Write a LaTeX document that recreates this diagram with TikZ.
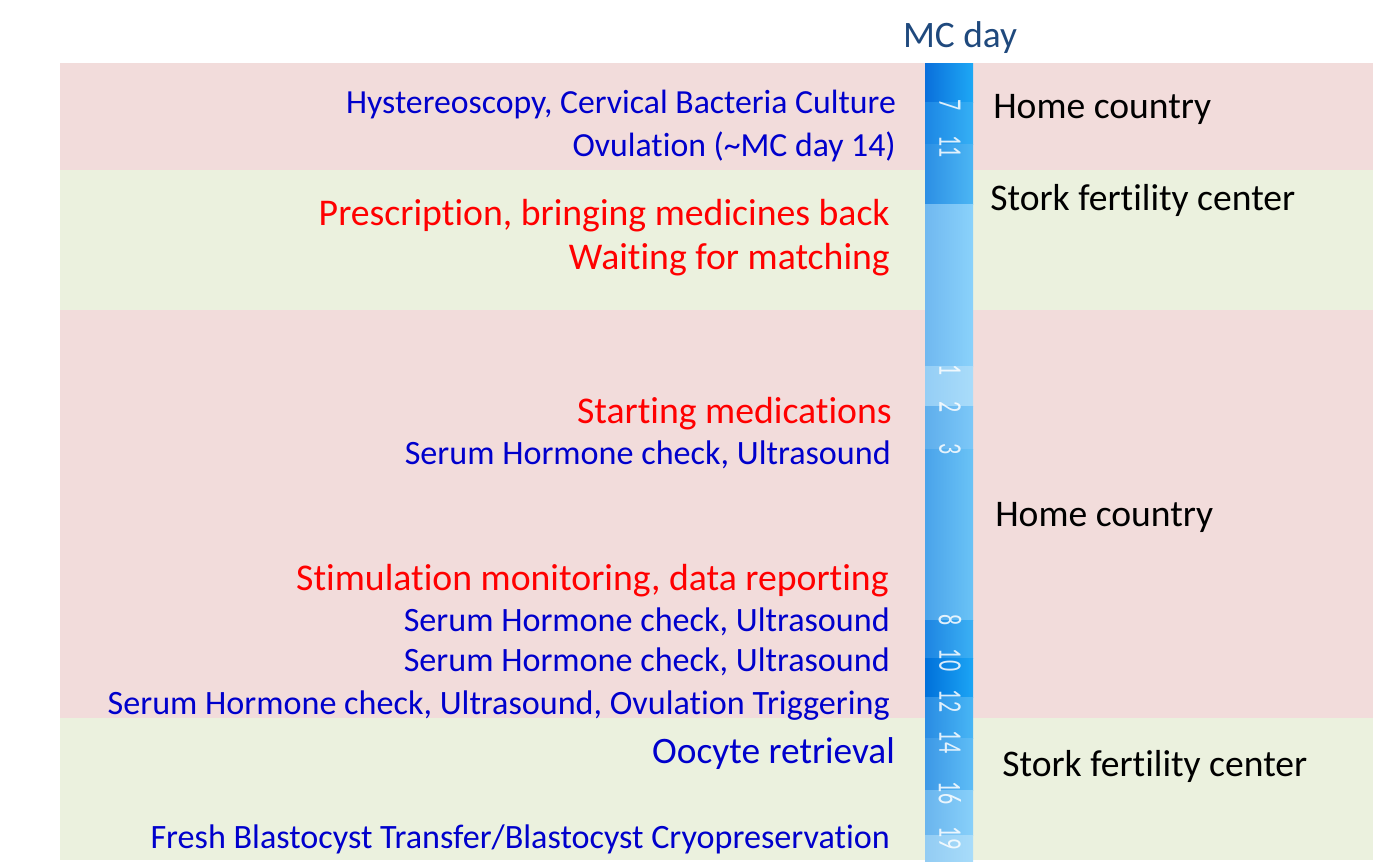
\documentclass[tikz,border=0pt]{standalone}
\usepackage{fontspec}
\setmainfont{Carlito}[Ligatures=CommonOff]
\usepackage{tikz}
\usetikzlibrary{positioning}
\definecolor{pinkrow}{RGB}{242,220,219}
\definecolor{greenrow}{RGB}{235,241,222}
\definecolor{taskblue}{RGB}{0,0,204}
\definecolor{taskred}{RGB}{255,0,0}
\definecolor{headblue}{RGB}{31,73,125}
\newcommand{\tallnum}[1]{\scalebox{1}[1.5]{#1}}
\tikzset{
    bluetask/.style={anchor=base east, inner sep=0pt, text=taskblue, font=\fontsize{25.6}{30}\selectfont},
    smalltask/.style={bluetask, font=\fontsize{25.3}{30}\selectfont},
    redtask/.style={bluetask, text=taskred, font=\fontsize{28.3}{32}\selectfont},
    place/.style={anchor=base west, inner sep=0pt, text=black, font=\fontsize{28.2}{32}\selectfont},
    daynum/.style={rotate=-90, inner sep=0pt, text=white, text opacity=0.85, font=\fontsize{16.5}{20}\selectfont},
}

\begin{document}
\begin{tikzpicture}[x=0.75pt, y=-0.75pt]
    \useasboundingbox (0,0) rectangle (1374,862);
    % rows
    \fill[pinkrow]  (60,63)  rectangle (1373,170);
    \fill[greenrow] (60,170) rectangle (1373,310);
    \fill[pinkrow]  (60,310) rectangle (1373,718);
    \fill[greenrow] (60,718) rectangle (1373,860);
    % day bar
    \shade[left color={rgb,255:red,10;green,111;blue,219},  right color={rgb,255:red,30;green,168;blue,245}]  (925,64)  rectangle (973,103);
    \shade[left color={rgb,255:red,28;green,134;blue,228},  right color={rgb,255:red,53;green,176;blue,245}]  (925,103) rectangle (973,145);
    \shade[left color={rgb,255:red,44;green,143;blue,228},  right color={rgb,255:red,76;green,182;blue,244}]  (925,145) rectangle (973,205);
    \shade[left color={rgb,255:red,112;green,184;blue,240}, right color={rgb,255:red,138;green,210;blue,251}] (925,205) rectangle (973,367);
    \shade[left color={rgb,255:red,149;green,206;blue,245}, right color={rgb,255:red,169;green,220;blue,250}] (925,367) rectangle (973,407);
    \shade[left color={rgb,255:red,95;green,174;blue,236},  right color={rgb,255:red,124;green,200;blue,248}] (925,407) rectangle (973,450);
    \shade[left color={rgb,255:red,74;green,163;blue,234},  right color={rgb,255:red,106;green,195;blue,246}] (925,450) rectangle (973,620);
    \shade[left color={rgb,255:red,30;green,133;blue,226},  right color={rgb,255:red,59;green,176;blue,244}]  (925,620) rectangle (973,658);
    \shade[left color={rgb,255:red,0;green,112;blue,218},   right color={rgb,255:red,28;green,165;blue,245}]  (925,658) rectangle (973,697);
    \shade[left color={rgb,255:red,42;green,140;blue,227},  right color={rgb,255:red,72;green,182;blue,245}]  (925,697) rectangle (973,738);
    \shade[left color={rgb,255:red,61;green,152;blue,230},  right color={rgb,255:red,94;green,189;blue,246}]  (925,738) rectangle (973,790);
    \shade[left color={rgb,255:red,106;green,181;blue,238}, right color={rgb,255:red,136;green,208;blue,250}] (925,790) rectangle (973,835);
    \shade[left color={rgb,255:red,147;green,204;blue,243}, right color={rgb,255:red,168;green,220;blue,250}] (925,835) rectangle (973,862);
    \node[text=headblue, font=\fontsize{28}{32}\selectfont, inner sep=0pt] (mcday) at (960,38) {MC day};
    % day numbers
    \node[daynum] (d7)  at (950,105) {\tallnum{7}};
    \node[daynum] (d11) at (950,147) {\tallnum{11}};
    \node[daynum] (d1)  at (950,370) {\tallnum{1}};
    \node[daynum] (d2)  at (950,407) {\tallnum{2}};
    \node[daynum] (d3)  at (950,449) {\tallnum{3}};
    \node[daynum] (d8)  at (950,620) {\tallnum{8}};
    \node[daynum] (d10) at (950,660) {\tallnum{10}};
    \node[daynum] (d12) at (950,701) {\tallnum{12}};
    \node[daynum] (d14) at (950,742) {\tallnum{14}};
    \node[daynum] (d16) at (950,793) {\tallnum{16}};
    \node[daynum] (d19) at (950,838) {\tallnum{19}};
    % tasks
    \node[smalltask] (hyster)   at (896,114) {Hystereoscopy, Cervical Bacteria Culture};
    \node[smalltask] (ovul)     at (896,157) {Ovulation (\textasciitilde MC day 14)};
    \node[redtask]   (prescr)   at (890,226) {Prescription, bringing medicines back};
    \node[redtask]   (waiting)  at (890,270) {Waiting for matching};
    \node[redtask]   (startmed) at (892,424) {Starting medications};
    \node[bluetask]  (serumA)   at (891,465) {Serum Hormone check, Ultrasound};
    \node[redtask]   (stimul)   at (889,590) {Stimulation monitoring, data reporting};
    \node[bluetask]  (serumB)   at (890,631) {Serum Hormone check, Ultrasound};
    \node[bluetask]  (serumC)   at (890,671) {Serum Hormone check, Ultrasound};
    \node[bluetask]  (serumD)   at (890,714) {Serum Hormone check, Ultrasound, Ovulation Triggering};
    \node[bluetask, font=\fontsize{28}{32}\selectfont] (oocyte) at (895,763) {Oocyte retrieval};
    \node[bluetask]  (fresh)    at (890,848) {Fresh Blastocyst Transfer/Blastocyst Cryopreservation};
    % places
    \node[place] (homeA)  at (993,119)  {Home country};
    \node[place] (storkA) at (990,211)  {Stork fertility center};
    \node[place] (homeB)  at (995,527)  {Home country};
    \node[place] (storkB) at (1002,776) {Stork fertility center};
\end{tikzpicture}
\end{document}
